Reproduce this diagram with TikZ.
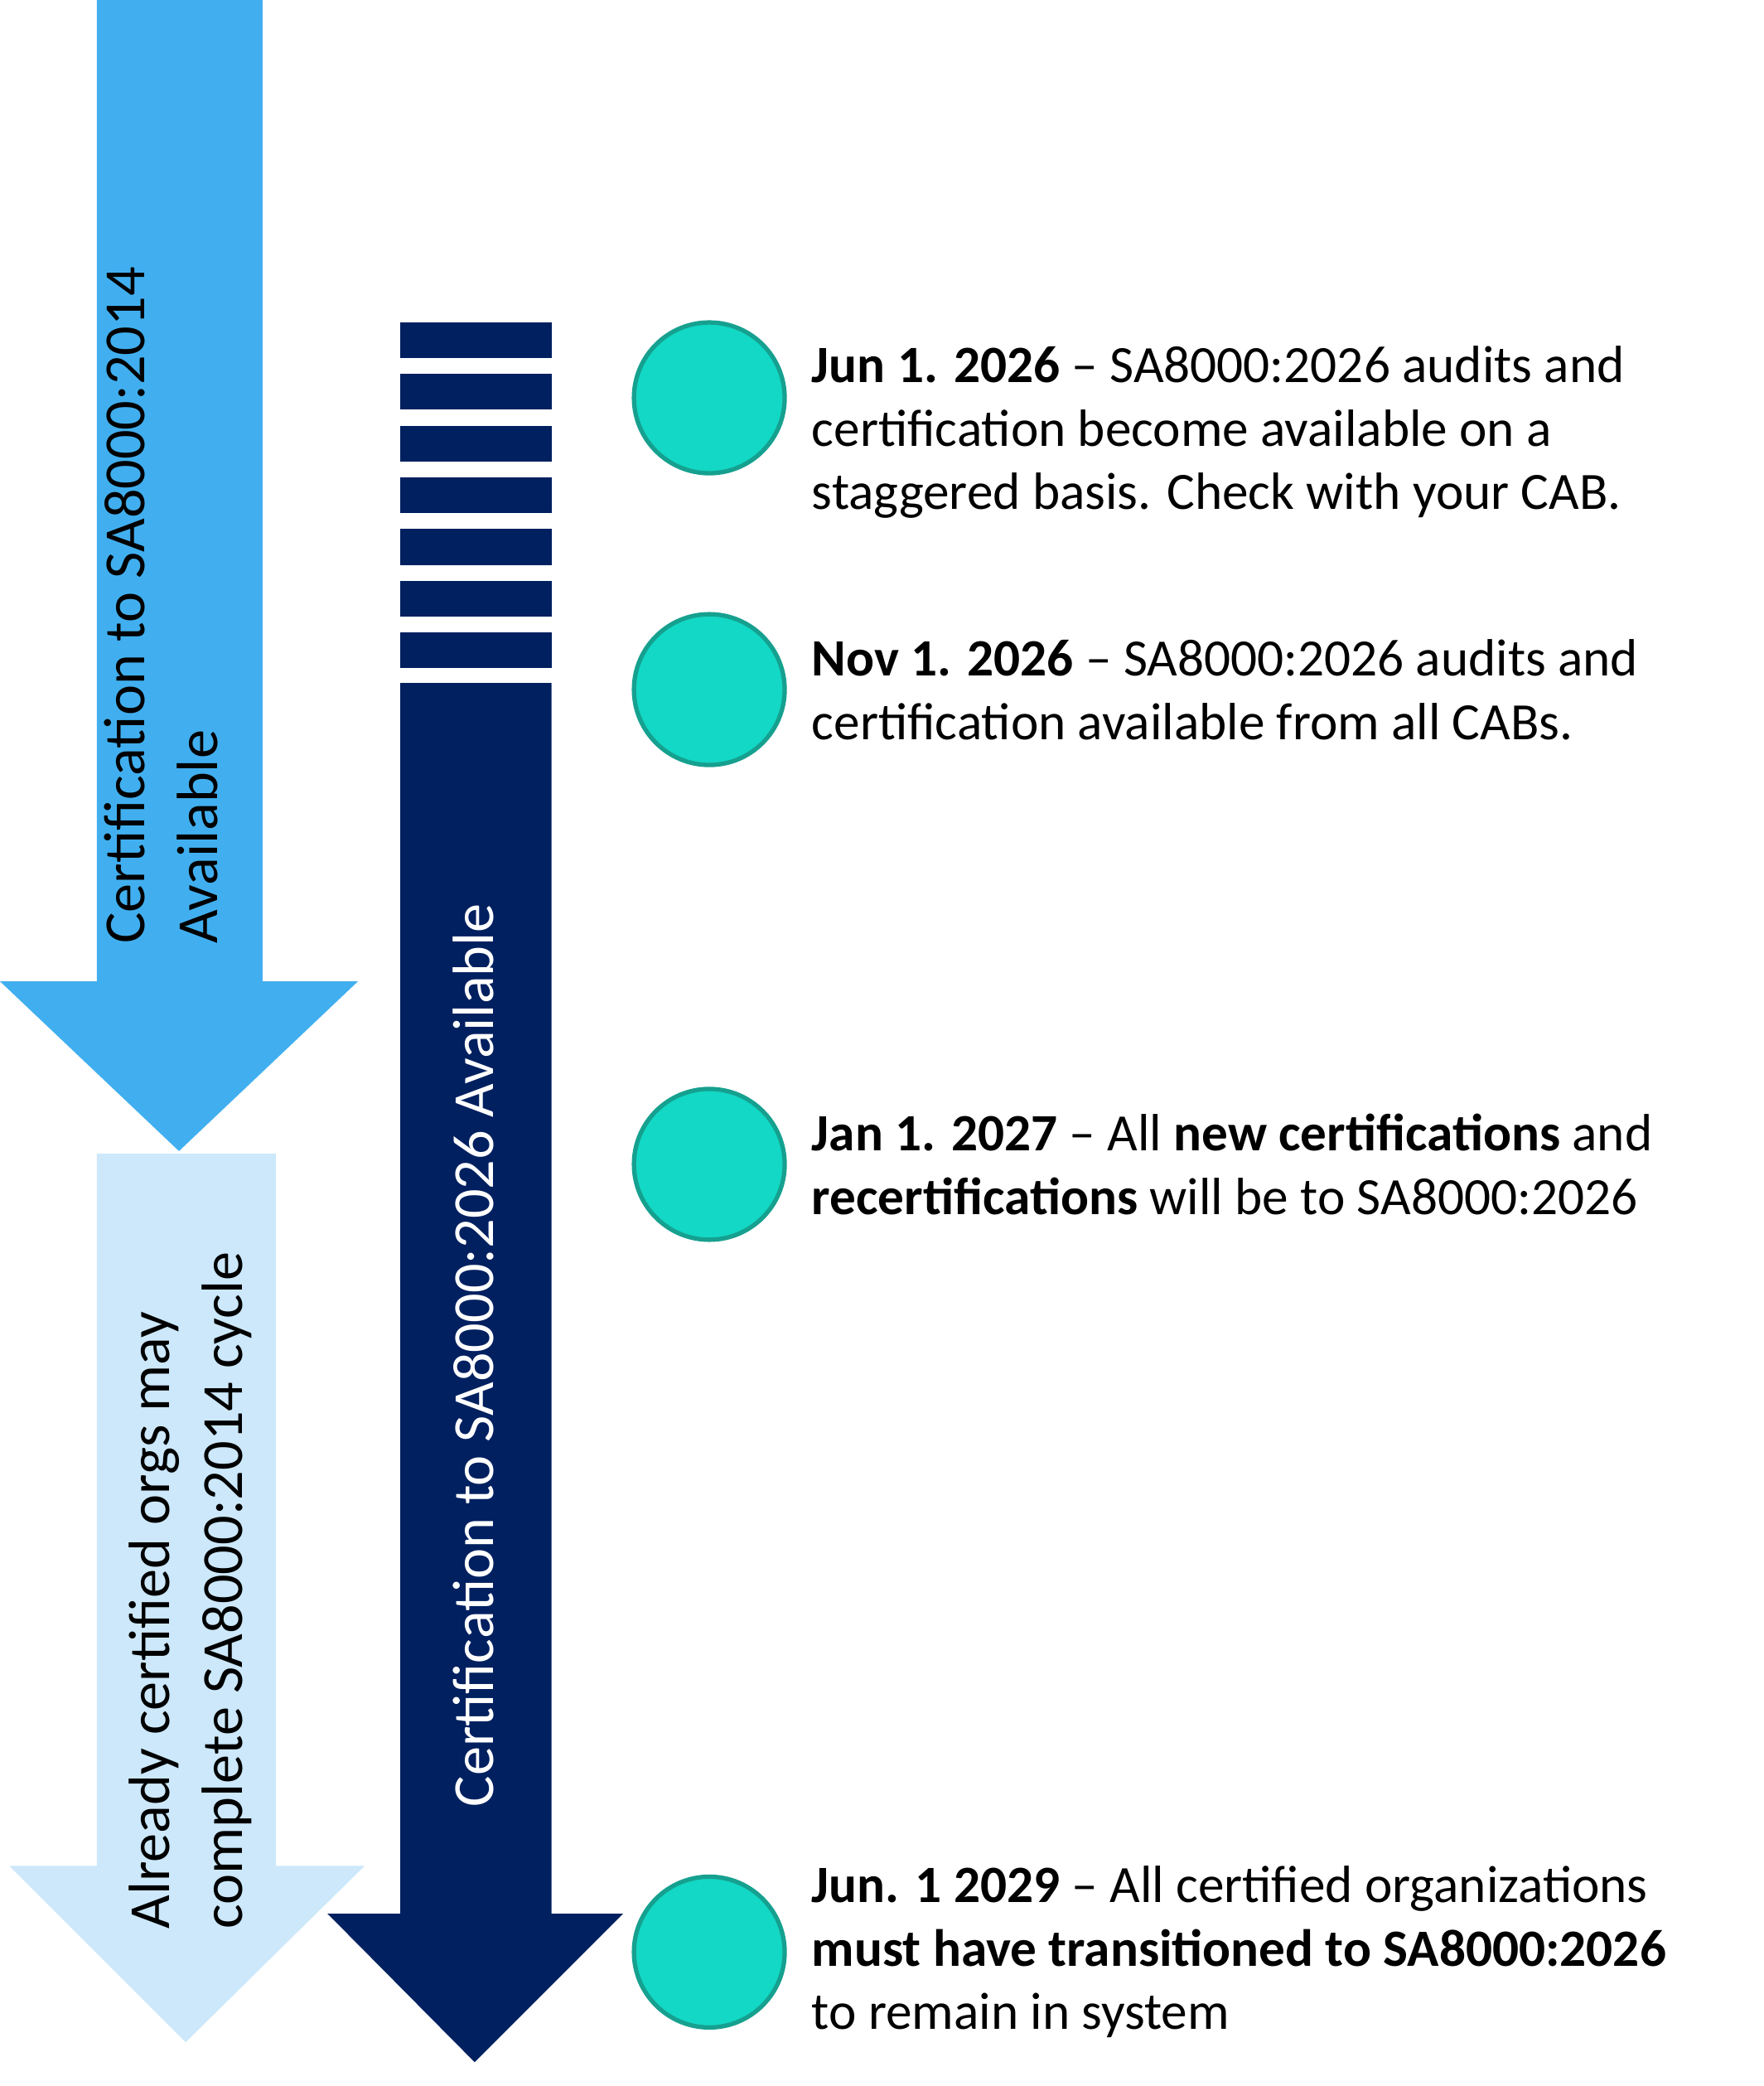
\documentclass[tikz,border=0pt]{standalone}
\usepackage{fontspec}
\setmainfont{Carlito}
\usetikzlibrary{positioning}
\definecolor{skyblue}{HTML}{41AFEF}
\definecolor{paleblue}{HTML}{CCE8FA}
\definecolor{navy}{HTML}{002060}
\definecolor{teal1}{HTML}{12D8C5}
\definecolor{teal2}{HTML}{16A08F}
\begin{document}
\begin{tikzpicture}[x=0.016cm, y=-0.016cm,
  dot/.style={circle, draw=teal2, line width=1.5pt, fill=teal1, minimum size=1.82cm, inner sep=0pt},
  event/.style={anchor=west, align=left, inner sep=0pt, font=\fontsize{18}{21.8}\selectfont},
  side/.style={rotate=90, align=left, inner sep=0pt, font=\fontsize{20}{25}\selectfont}]
   \useasboundingbox (0,0) rectangle (1330,1573);
   % arrows
   \fill[skyblue] (73,0) -- (198,0) -- (198,740) -- (270,740) -- (135,868) -- (0,740) -- (73,740) -- cycle;
   \fill[paleblue] (73,870) -- (208,870) -- (208,1407) -- (275,1407) -- (140,1540) -- (7,1407) -- (73,1407) -- cycle;
   \foreach \y in {243,282,321,360,399,438,477}
      \fill[navy] (302,\y) rectangle (416,\y+27);
   \fill[navy] (302,515) -- (416,515) -- (416,1443) -- (470,1443) -- (358,1555) -- (247,1443) -- (302,1443) -- cycle;
   % arrow texts
   \node[side, anchor=south west] (old) at (165,712) {Certification to SA8000:2014\\Available};
   \node[side, anchor=south west] (cycle) at (190,1455) {Already certified orgs may\\complete SA8000:2014 cycle};
   \node[side, anchor=south, text=white] (new) at (373,1022) {Certification to SA8000:2026 Available};
   % milestones
   \node[dot] (d1) at (535,300) {};
   \node[dot] (d2) at (535,520) {};
   \node[dot] (d3) at (535,878) {};
   \node[dot] (d4) at (535,1472) {};
   \node[event] (t1) at (612,326) {\textbf{Jun 1. 2026} – SA8000:2026 audits and\\certification become available on a\\staggered basis. Check with your CAB.};
   \node[event] (t2) at (612,520) {\textbf{Nov 1. 2026} – SA8000:2026 audits and\\certification available from all CABs.};
   \node[event] (t3) at (612,878) {\textbf{Jan 1. 2027} – All \textbf{new certifications} and\\\textbf{recertifications} will be to SA8000:2026};
   \node[event] (t4) at (612,1472) {\textbf{Jun. 1 2029} – All certified organizations\\\textbf{must have transitioned to SA8000:2026}\\to remain in system};
\end{tikzpicture}
\end{document}
